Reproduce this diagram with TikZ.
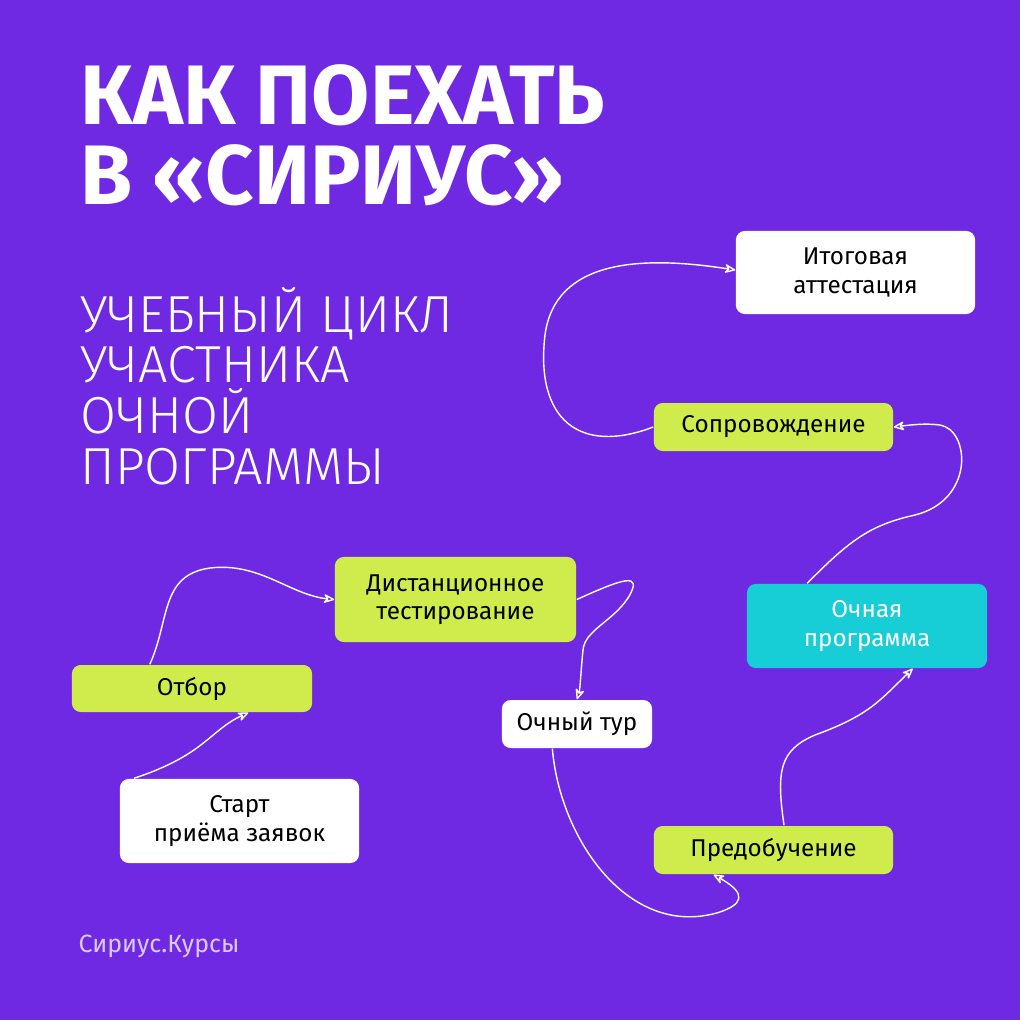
\documentclass[tikz,border=0pt]{standalone}
\usepackage{fontspec}
\setmainfont{Fira Sans}
\newfontfamily\thinf{Fira Sans Light}
\usetikzlibrary{arrows.meta}
\definecolor{bg}{HTML}{7029E3}
\definecolor{lime}{HTML}{D0EC4C}
\definecolor{cyanb}{HTML}{18CED6}
\tikzset{
 box/.style={draw=none,rounded corners=2.5pt,minimum width=2.39cm,align=center,font=\fontsize{6.9}{8}\selectfont,text=black},
 link/.style={white,line width=0.4pt,-{Stealth[length=3.6pt,width=3pt,open,round]}}
}
\begin{document}
\begin{tikzpicture}[x=0.01cm,y=-0.01cm]
\fill[bg] (0,0) rectangle (1020,1020);
\useasboundingbox (0,0) rectangle (1020,1020);
\node[anchor=base west,text=white,font=\fontsize{24}{26}\selectfont\bfseries,inner sep=0] (t1) at (80,124) {КАК ПОЕХАТЬ};
\node[anchor=base west,text=white,font=\fontsize{24}{26}\selectfont\bfseries,inner sep=0] (t2) at (80,204) {В «СИРИУС»};
\node[anchor=base west,text=white,font=\thinf\fontsize{14.8}{14.4}\selectfont,align=left,inner sep=0] (sub) at (80,484) {УЧЕБНЫЙ ЦИКЛ\\УЧАСТНИКА\\ОЧНОЙ\\ПРОГРАММЫ};
\node[box,fill=white,minimum height=0.83cm] (itog) at (855.5,272.5) {Итоговая\\аттестация};
\node[box,fill=lime,minimum height=0.48cm] (sopr) at (773.5,427) {Сопровождение};
\node[box,fill=lime,minimum height=0.85cm,minimum width=2.41cm] (dist) at (455.5,599.5) {Дистанционное\\тестирование};
\node[box,fill=lime,minimum height=0.47cm,minimum width=2.4cm] (otb) at (192,688.5) {Отбор};
\node[box,fill=white,minimum height=0.48cm,minimum width=1.5cm] (tur) at (577,724) {Очный тур};
\node[box,fill=cyanb,minimum height=0.84cm,minimum width=2.4cm,text=white] (och) at (867,626) {Очная\\программа};
\node[box,fill=white,minimum height=0.84cm] (start) at (239.5,821) {Старт\\приёма заявок};
\node[box,fill=lime,minimum height=0.48cm] (pred) at (773.5,850) {Предобучение};
\node[anchor=base west,text=white!75!bg,font=\fontsize{7.1}{8}\selectfont,inner sep=0] (logo) at (78,952) {Сириус.Курсы};
\draw[link] ([xshift=-30]start.north) .. controls (205,755) and (210,730) .. ([xshift=16]otb.south);
\draw[link] ([xshift=-12]otb.north) .. controls (170,620) and (160,575) .. (210,568) .. controls (260,562) and (290,595) .. (dist.west);
\draw[link] (dist.east) .. controls (620,580) and (645,570) .. (628,598) .. controls (612,622) and (585,630) .. (583,650) .. controls (581,670) and (580,690) .. (tur.north);
\draw[link] ([xshift=-7]tur.south) .. controls (560,840) and (630,940) .. (720,912) .. controls (740,905) and (750,895) .. ([xshift=-17]pred.south);
\draw[link] ([xshift=3]pred.north) .. controls (776,770) and (780,750) .. (815,735) .. controls (870,715) and (880,700) .. ([xshift=13]och.south);
\draw[link] ([xshift=-17]och.north) .. controls (850,540) and (870,525) .. (915,515) .. controls (975,500) and (970,430) .. (940,425) .. controls (925,423) and (910,425) .. (sopr.east);
\draw[link] (sopr.west) .. controls (580,455) and (535,420) .. (545,335) .. controls (555,260) and (640,255) .. (itog.west |- 0,270);
\end{tikzpicture}
\end{document}
